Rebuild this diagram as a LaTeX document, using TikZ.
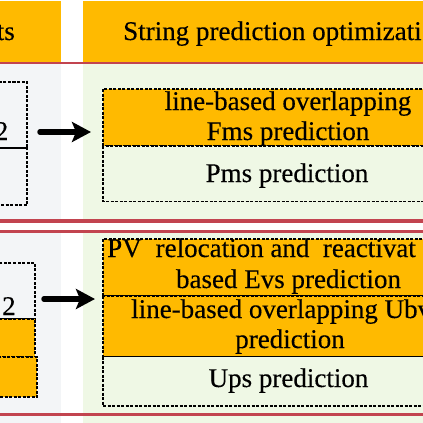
\documentclass[tikz,border=0pt]{standalone}
\usepackage{fontspec}
\setmainfont{Liberation Serif}
\newfontfamily\boxface[FakeBold=0.3]{Liberation Serif}
\usepackage{xcolor}
\usetikzlibrary{arrows.meta}

\definecolor{boxorange}{HTML}{FFBA00}
\definecolor{panelgreen}{HTML}{EFF8E5}
\definecolor{panelgray}{HTML}{F3F5F7}
\definecolor{rulered}{HTML}{C2444F}

\tikzset{
  dashbox/.style={draw=black, dash pattern=on 3pt off 1.5pt, line width=1.2pt},
  bigarrow/.style={line width=5.5pt, line cap=round, -{Stealth[length=19pt,width=20pt,inset=4pt]}},
  lbl/.style={inner sep=0pt, anchor=base, font=\boxface\fontsize{27}{31}\selectfont},
}

\begin{document}
\begin{tikzpicture}[x=1pt,y=-1pt]
        \useasboundingbox (0,0) rectangle (423,423);
        \clip (0,0) rectangle (423,423);

        % panels and headers
        \fill[white] (0,0) rectangle (423,423);
        \fill[panelgray] (0,64) rectangle (61,423);
        \fill[panelgreen] (83,64) rectangle (423,423);
        \fill[boxorange] (0,1) rectangle (61,62);
        \fill[boxorange] (83,1) rectangle (430,62);
        \fill[white] (0,222.5) rectangle (423,230.2);

        \node[lbl, anchor=base east] (hleft) at (15,40) {ts};
        \node[lbl, anchor=base west] (hright) at (123,40) {String prediction optimizati};

        % rules
        \draw[rulered, line width=2.6pt] (0,63) -- (423,63);
        \draw[rulered, line width=3.2pt] (0,221) -- (423,221);
        \draw[rulered, line width=3.2pt] (0,231.7) -- (423,231.7);
        \draw[rulered, line width=2.8pt] (0,414.7) -- (423,414.7);

        % upper row, left
        \draw[dashbox] (-5,82) rectangle (27,148);
        \draw[dashbox] (-5,148) rectangle (27,205);
        \node[lbl, anchor=base east] (topnum) at (8.5,140) {2};

        % upper row, right
        \draw[dashbox, fill=boxorange] (103,89) rectangle (480,146);
        \draw[dashbox, fill=panelgreen] (103,146) rectangle (480,201.5);
        \node[lbl] (fms1) at (288,110) {line-based overlapping};
        \node[lbl] (fms2) at (288,140) {Fms prediction};
        \node[lbl] (pms) at (287,182) {Pms prediction};

        \coordinate (topA) at (40,132);
        \coordinate (topB) at (91,132);
        \draw[bigarrow] (topA) -- (topB);

        % lower row, left
        \draw[dashbox] (-5,263) rectangle (35,319);
        \draw[dashbox, fill=boxorange] (-5,319) rectangle (35,357);
        \draw[dashbox, fill=boxorange] (-5,357) rectangle (37,397);
        \node[lbl, anchor=base west] (botnum) at (2,315) {2};

        % lower row, right
        \draw[dashbox, fill=boxorange] (103,239) rectangle (480,296);
        \draw[dashbox, fill=boxorange] (103,296) rectangle (480,356.7);
        \draw[dashbox, fill=panelgreen] (103,356.7) rectangle (480,406);
        \node[lbl, anchor=base west] (evs1) at (107,257) {PV\hspace{14pt}relocation and \ reactivat};
        \node[lbl] (evs2) at (288.5,288) {based Evs prediction};
        \node[lbl, anchor=base west] (ubv1) at (131,318) {line-based overlapping Ubv};
        \node[lbl] (ubv2) at (290,348) {prediction};
        \node[lbl] (ups) at (288.5,387) {Ups prediction};

        \coordinate (botA) at (44,299);
        \coordinate (botB) at (95,299);
        \draw[bigarrow] (botA) -- (botB);

    \end{tikzpicture}
\end{document}
